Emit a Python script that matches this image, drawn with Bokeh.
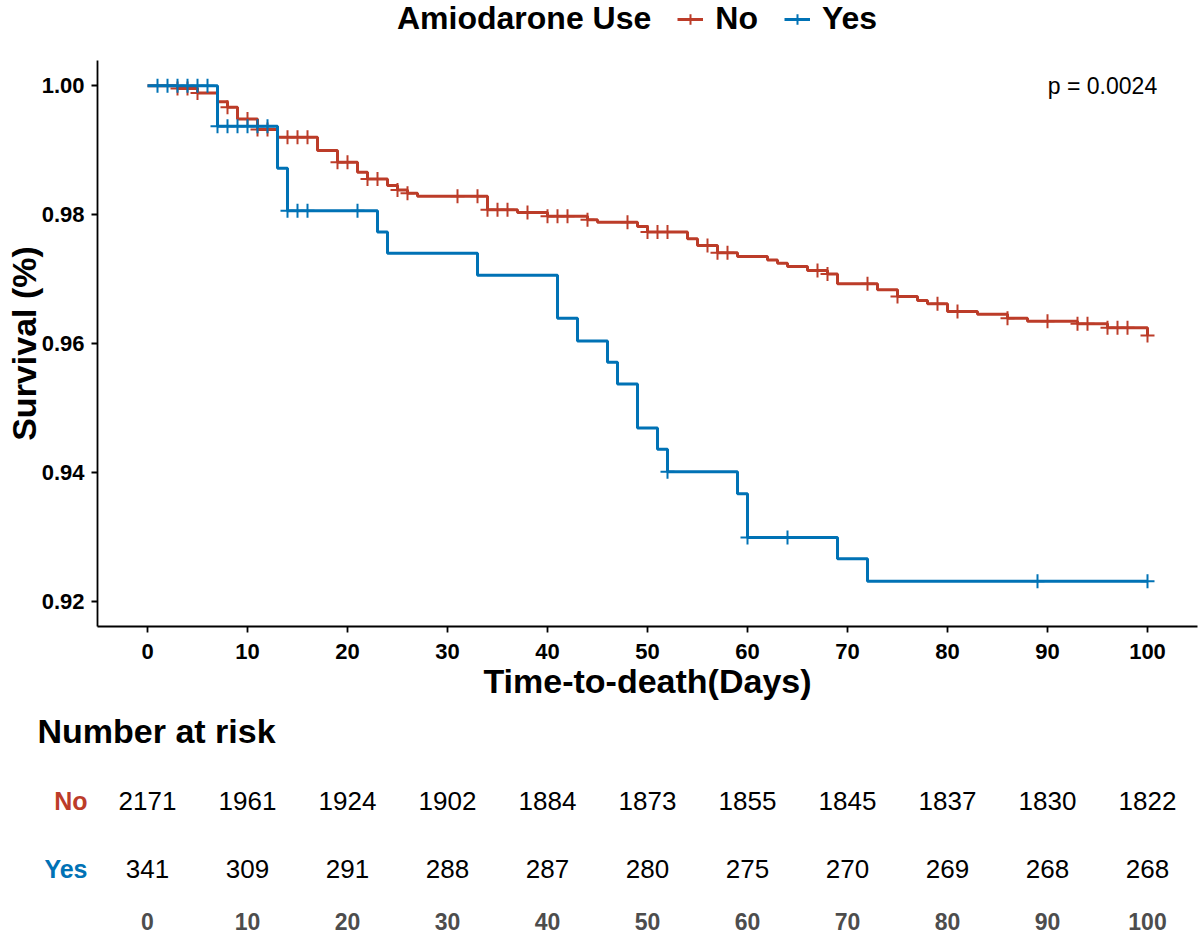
import numpy as np
from bokeh.plotting import figure
from bokeh.models import (Range1d, Legend, LegendItem, Label,
                          NumeralTickFormatter, FixedTicker)
from bokeh.core.properties import value
from bokeh.embed import file_html
from bokeh.resources import INLINE

# ---------------- data ----------------
no_time = [0, 3, 5, 7, 8, 9, 11, 13, 17, 19, 21, 22, 24, 25, 26, 27, 34, 37, 40, 44,
           45, 49, 50, 54, 55, 57, 59, 62, 63, 64, 66, 68, 69, 73, 75, 77, 78, 80, 83, 86,
           88, 93, 96, 100]
no_surv = [1.0, 0.99956, 0.99887, 0.99752, 0.99664, 0.99483, 0.99318, 0.99199, 0.98992, 0.98811,
           0.98656, 0.98553, 0.98450, 0.98383, 0.98330, 0.98284, 0.98073, 0.98031, 0.97974, 0.97918,
           0.97881, 0.97814, 0.97730, 0.97623, 0.97519, 0.97406, 0.97349, 0.97297, 0.97245, 0.97194,
           0.97132, 0.97080, 0.96926, 0.96833, 0.96730, 0.96667, 0.96615, 0.96496, 0.96455, 0.96393,
           0.96346, 0.96305, 0.96243, 0.96124]
no_censor = [3, 4, 5, 8, 10, 11, 12, 14, 15, 16, 19, 20, 22, 23, 25, 26, 31, 33, 34, 35, 36, 38,
             40, 41, 42, 44, 48, 50, 51, 52, 56, 57, 58, 67, 68, 72, 75, 79, 81, 86, 90, 93, 94,
             96, 97, 98, 100]

yes_time = [0, 7, 13, 14, 23, 24, 33, 41, 43, 46, 47, 49, 51, 52, 59, 60, 69, 72, 100]
yes_surv = [1.0, 0.9937, 0.9872, 0.9806, 0.9773, 0.9740, 0.9706, 0.9639, 0.9604, 0.9571,
            0.9537, 0.9469, 0.9436, 0.9401, 0.9367, 0.9299, 0.9266, 0.9231, 0.9231]
yes_censor = [1, 2, 3, 4, 5, 6, 7, 8, 9, 10, 11, 12, 14, 15, 16, 21, 52, 60, 64, 89, 100]

legend_title = "Amiodarone Use"
groups = ["No", "Yes"]
risk_times = [0, 10, 20, 30, 40, 50, 60, 70, 80, 90, 100]
no_risk = [2171, 1961, 1924, 1902, 1884, 1873, 1855, 1845, 1837, 1830, 1822]
yes_risk = [341, 309, 291, 288, 287, 280, 275, 270, 269, 268, 268]

x_ticks = [0, 10, 20, 30, 40, 50, 60, 70, 80, 90, 100]
y_ticks = [0.92, 0.94, 0.96, 0.98, 1.00]
p_text = "p = 0.0024"

# ---------------- style / layout ----------------
FONT = "Liberation Sans"
RED = "#BC3C29"
BLUE = "#0072B5"
W = 1200
LEFT = 97
RIGHT = 3
X0, X1 = -5, 105
PX_PER = (W - LEFT - RIGHT) / (X1 - X0)

H_HEAD = 60
H_MAIN = 650
H_RISK = 226
TOP_RISK = H_HEAD + H_MAIN
# risk-table row centres (pixels from the top of the page)
ROW_HEAD, ROW_NO, ROW_YES, ROW_TICK = 730, 800, 868, 921


def surv_at(times, surv, t):
    idx = np.searchsorted(np.array(times), np.array(t), side="right") - 1
    return list(np.array(surv)[idx])


def bare(fig):
    fig.outline_line_color = None
    fig.xgrid.visible = False
    fig.ygrid.visible = False
    fig.background_fill_alpha = 0
    fig.border_fill_alpha = 0


# ---------------- legend header ----------------
h = figure(width=W, height=H_HEAD, x_range=Range1d(0, 1), y_range=Range1d(0, 1),
           output_backend="svg", toolbar_location=None,
           x_axis_location=None, y_axis_location=None,
           min_border_left=0, min_border_right=0, min_border_top=0, min_border_bottom=0)
bare(h)
# legend proxies sit outside the visible range; only their legend swatches show
off = dict(x=[5, 6], y=[5, 5])
t_dummy = h.scatter(marker="circle", size=1, line_alpha=0, fill_alpha=0, **off)
l_no = h.line(line_color=RED, line_width=3, **off)
m_no = h.scatter(marker="cross", size=14, line_color=RED, line_width=2, **off)
l_yes = h.line(line_color=BLUE, line_width=3, **off)
m_yes = h.scatter(marker="cross", size=14, line_color=BLUE, line_width=2, **off)
legend = Legend(items=[LegendItem(label=legend_title, renderers=[t_dummy]),
                       LegendItem(label=groups[0], renderers=[l_no, m_no]),
                       LegendItem(label=groups[1], renderers=[l_yes, m_yes])],
                orientation="horizontal", location=(359, 23),
                label_text_font=FONT, label_text_font_size="32px", label_text_font_style="bold",
                label_text_color="black",
                glyph_width=26, glyph_height=26, label_standoff=12, spacing=26,
                padding=0, margin=0, border_line_color=None, background_fill_alpha=0)
h.add_layout(legend, "center")

# ---------------- main KM plot ----------------
p = figure(width=W, height=H_MAIN, x_range=Range1d(X0, X1), y_range=Range1d(0.9161, 1.0039),
           output_backend="svg", toolbar_location=None,
           min_border_left=LEFT, min_border_right=RIGHT, min_border_top=0, min_border_bottom=84)
bare(p)

p.step(x=no_time, y=no_surv, mode="after", line_color=RED, line_width=3)
p.scatter(x=no_censor, y=surv_at(no_time, no_surv, no_censor), marker="cross",
          size=14, line_color=RED, line_width=2)
p.step(x=yes_time, y=yes_surv, mode="after", line_color=BLUE, line_width=3)
p.scatter(x=yes_censor, y=surv_at(yes_time, yes_surv, yes_censor), marker="cross",
          size=14, line_color=BLUE, line_width=2)

p.add_layout(Label(x=95.5, y=1.0, text=p_text, text_align="center", text_baseline="middle",
                   text_font=FONT, text_font_size="23px", text_color="black"))

for ax in (p.xaxis[0], p.yaxis[0]):
    ax.axis_line_width = 1.8
    ax.axis_line_color = "black"
    ax.major_tick_line_width = 1.8
    ax.major_tick_line_color = "black"
    ax.major_tick_out = 6
    ax.major_tick_in = 0
    ax.minor_tick_line_color = None
    ax.major_label_text_font = FONT
    ax.major_label_text_font_size = "22px"
    ax.major_label_text_font_style = "bold"
    ax.major_label_text_color = "black"
    ax.axis_label_text_font = FONT
    ax.axis_label_text_font_size = "34px"
    ax.axis_label_text_font_style = "bold"
    ax.axis_label_text_color = "black"

p.xaxis.ticker = FixedTicker(ticks=x_ticks)
p.xaxis.axis_label = "Time-to-death(Days)"
p.xaxis.major_label_standoff = 11
p.xaxis.axis_label_standoff = 0
p.yaxis.ticker = FixedTicker(ticks=y_ticks)
p.yaxis.formatter = NumeralTickFormatter(format="0.00")
p.yaxis.axis_label = "Survival (%)"
p.yaxis.major_label_standoff = 7
p.yaxis.axis_label_standoff = -4

# ---------------- risk table ----------------
r = figure(width=W, height=H_RISK,
           x_range=Range1d(X0 - LEFT / PX_PER, X1 + RIGHT / PX_PER),
           y_range=Range1d(TOP_RISK + H_RISK, TOP_RISK),
           output_backend="svg", toolbar_location=None,
           x_axis_location=None, y_axis_location=None,
           min_border_left=0, min_border_right=0, min_border_top=0, min_border_bottom=0)
bare(r)

n = len(risk_times)
r.text(x=risk_times + risk_times, y=[ROW_NO] * n + [ROW_YES] * n,
       text=[str(v) for v in no_risk + yes_risk],
       text_align="center", text_baseline="middle",
       text_font=value(FONT), text_font_size="26px", text_color="black")
r.text(x=risk_times, y=[ROW_TICK] * n, text=[str(t) for t in risk_times],
       text_align="center", text_baseline="middle", text_font=value(FONT),
       text_font_size="23px", text_font_style="bold", text_color="#4D4D4D")
r.text(x=[X0, X0], y=[ROW_NO, ROW_YES], text=groups, x_offset=-10,
       text_align="right", text_baseline="middle", text_font=value(FONT),
       text_font_size="25px", text_font_style="bold", text_color=[RED, BLUE])
r.text(x=[X0], y=[ROW_HEAD], text=["Number at risk"], x_offset=-60,
       text_align="left", text_baseline="middle", text_font=value(FONT),
       text_font_size="34px", text_font_style="bold", text_color="black")

open("out.html", "w").write(file_html([h, p, r], INLINE))
